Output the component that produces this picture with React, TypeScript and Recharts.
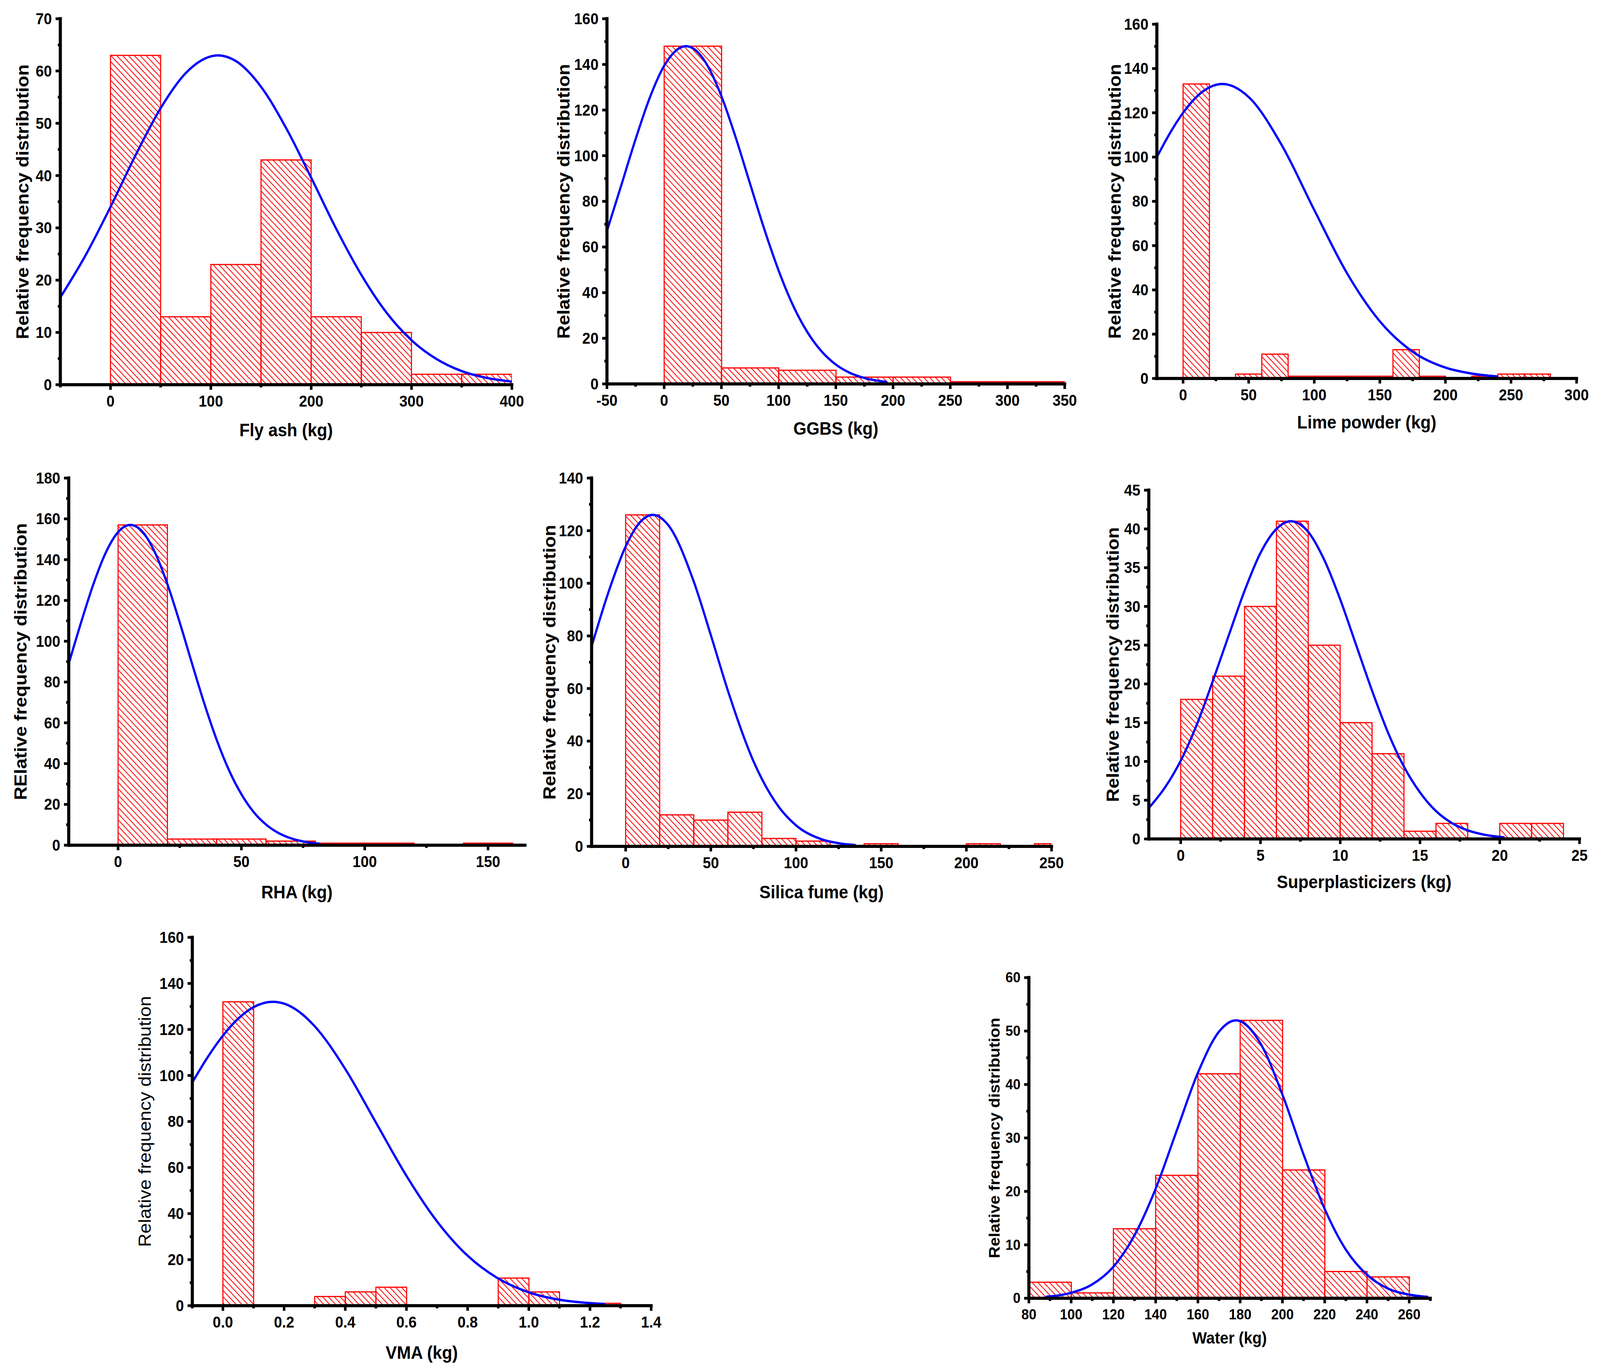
import React from 'react';
import { ComposedChart, Bar, Line, XAxis, YAxis } from 'recharts';

// ---------- Fly ash ----------
const flyAshBinStarts = [0, 50, 100, 150, 200, 250, 300, 350];
const flyAshCounts = [63, 13, 23, 43, 13, 10, 2, 2];
const flyAshCurveX = [-50, -25, 0, 25, 50, 75, 100, 107, 125, 150, 175, 200, 225, 250, 275, 300, 325, 350, 375, 400];
const flyAshCurveY = [16.7, 24.7, 34.0, 43.9, 52.9, 59.6, 62.8, 63, 61.9, 57.0, 49.1, 39.6, 29.8, 21.0, 13.8, 8.5, 4.9, 2.6, 1.3, 0.6];
const flyAshXTicks = [0, 100, 200, 300, 400];
const flyAshXMinor = [-50, 50, 150, 250, 350];
const flyAshYTicks = [0, 10, 20, 30, 40, 50, 60, 70];
const flyAshYMinor = [5, 15, 25, 35, 45, 55, 65];

// ---------- GGBS ----------
const ggbsBinStarts = [0, 50, 100, 150, 200, 250, 300];
const ggbsCounts = [148, 7, 6, 3, 3, 1, 1];
const ggbsCurveX = [-50, -37.5, -25, -12.5, 0, 19, 25, 37.5, 50, 62.5, 75, 87.5, 100, 112.5, 125, 137.5, 150, 162.5, 175, 195];
const ggbsCurveY = [67, 87.0, 107.2, 125.5, 139.4, 148, 147.1, 139.8, 126.1, 108.0, 87.8, 67.8, 49.7, 34.5, 22.8, 14.3, 8.5, 4.8, 2.6, 0.85];
const ggbsXTicks = [-50, 0, 50, 100, 150, 200, 250, 300, 350];
const ggbsXMinor = [-25, 25, 75, 125, 175, 225, 275, 325];
const ggbsYTicks = [0, 20, 40, 60, 80, 100, 120, 140, 160];
const ggbsYMinor = [10, 30, 50, 70, 90, 110, 130, 150];

// ---------- Lime powder ----------
const limeBinStarts = [0, 20, 40, 60, 80, 100, 120, 140, 160, 180, 200, 220, 240, 260];
const limeCounts = [133, 0, 2, 11, 1, 1, 1, 1, 13, 1, 0, 1, 2, 2];
const limeCurveX = [-20, -10, 0, 15, 30, 50, 75, 100, 125, 150, 175, 200, 220, 240];
const limeCurveY = [100, 110.8, 120, 129.6, 133, 127.1, 105.6, 76.1, 47.5, 25.8, 12.1, 4.9, 2.2, 0.87];
const limeXTicks = [0, 50, 100, 150, 200, 250, 300];
const limeXMinor = [25, 75, 125, 175, 225, 275];
const limeYTicks = [0, 20, 40, 60, 80, 100, 120, 140, 160];
const limeYMinor = [10, 30, 50, 70, 90, 110, 130, 150];

// ---------- RHA ----------
const rhaBinStarts = [0, 20, 40, 60, 80, 100, 120, 140];
const rhaCounts = [157, 3, 3, 2, 1, 1, 0, 1];
const rhaCurveX = [-20, -15, -10, -5, 0, 5, 10, 15, 20, 25, 30, 35, 40, 45, 50, 55, 60, 65, 70, 76, 82];
const rhaCurveY = [89, 109.2, 128, 143.4, 153.5, 157, 153.5, 143.4, 128, 109.2, 89, 69.3, 51.6, 36.7, 25, 16.2, 10.1, 6.0, 3.4, 1.6, 0.7];
const rhaXTicks = [0, 50, 100, 150];
const rhaXMinor = [25, 75, 125];
const rhaYTicks = [0, 20, 40, 60, 80, 100, 120, 140, 160, 180];
const rhaYMinor = [10, 30, 50, 70, 90, 110, 130, 150, 170];

// ---------- Silica fume ----------
const silicaBinStarts = [0, 20, 40, 60, 80, 100, 120, 140, 160, 180, 200, 220, 240];
const silicaCounts = [126, 12, 10, 13, 3, 2, 0, 1, 0, 0, 1, 0, 1];
const silicaCurveX = [-20, -10, 0, 8, 16, 25, 40, 50, 60, 75, 90, 100, 115, 125, 135];
const silicaCurveY = [76, 96.8, 114, 122.9, 126, 122.1, 100.6, 80.3, 59.2, 32.4, 14.9, 8.0, 2.7, 1.2, 0.5];
const silicaXTicks = [0, 50, 100, 150, 200, 250];
const silicaXMinor = [25, 75, 125, 175, 225];
const silicaYTicks = [0, 20, 40, 60, 80, 100, 120, 140];
const silicaYMinor = [10, 30, 50, 70, 90, 110, 130];

// ---------- Superplasticizers ----------
const spBinStarts = [0, 2, 4, 6, 8, 10, 12, 14, 16, 18, 20, 22];
const spCounts = [18, 21, 30, 41, 25, 15, 11, 1, 2, 0, 2, 2];
const spCurveX = [-2, -1, 0, 1, 2, 3, 4, 5, 6, 6.9, 8, 9, 10, 11, 12, 13, 14, 15, 16, 17, 18, 19, 20.3];
const spCurveY = [4.0, 6.6, 10.1, 14.7, 20.3, 26.2, 32.0, 36.9, 40.0, 41, 39.6, 36.0, 30.9, 25.0, 19.1, 13.7, 9.3, 6.0, 3.6, 2.05, 1.1, 0.56, 0.2];
const spXTicks = [0, 5, 10, 15, 20, 25];
const spXMinor = [2.5, 7.5, 12.5, 17.5, 22.5];
const spYTicks = [0, 5, 10, 15, 20, 25, 30, 35, 40, 45];
const spYMinor = [2.5, 7.5, 12.5, 17.5, 22.5, 27.5, 32.5, 37.5, 42.5];

// ---------- VMA ----------
const vmaBinStarts = [0, 0.1, 0.2, 0.3, 0.4, 0.5, 0.6, 0.7, 0.8, 0.9, 1.0, 1.1, 1.2];
const vmaCounts = [132, 0, 0, 4, 6, 8, 0, 0, 0, 12, 6, 0, 1];
const vmaCurveX = [-0.1, -0.05, 0, 0.05, 0.1, 0.163, 0.2, 0.25, 0.3, 0.4, 0.5, 0.6, 0.7, 0.8, 0.9, 1.0, 1.1, 1.175, 1.25];
const vmaCurveY = [97, 107.9, 117.3, 124.7, 129.7, 132, 131.2, 127.6, 121.4, 102.8, 79.6, 56.4, 36.6, 21.7, 11.8, 5.8, 2.6, 1.4, 0.7];
const vmaXTicks = [0, 0.2, 0.4, 0.6, 0.8, 1.0, 1.2, 1.4];
const vmaXMinor = [-0.1, 0.1, 0.3, 0.5, 0.7, 0.9, 1.1, 1.3];
const vmaYTicks = [0, 20, 40, 60, 80, 100, 120, 140, 160];
const vmaYMinor = [10, 30, 50, 70, 90, 110, 130, 150];

// ---------- Water ----------
const waterBinStarts = [80, 100, 120, 140, 160, 180, 200, 220, 240];
const waterCounts = [3, 1, 13, 23, 42, 52, 24, 5, 4];
const waterCurveX = [88, 100, 110, 120, 130, 140, 150, 160, 170, 178, 190, 200, 210, 220, 230, 240, 250, 260, 269];
const waterCurveY = [0.28, 1.03, 2.6, 5.9, 11.8, 20.5, 31.4, 42.2, 49.9, 52, 47.4, 38.1, 26.9, 16.7, 9.1, 4.4, 1.8, 0.68, 0.25];
const waterXTicks = [80, 100, 120, 140, 160, 180, 200, 220, 240, 260];
const waterXMinor = [90, 110, 130, 150, 170, 190, 210, 230, 250, 270];
const waterYTicks = [0, 10, 20, 30, 40, 50, 60];
const waterYMinor = [5, 15, 25, 35, 45, 55];

const FONT = "'Liberation Sans', Arial, Helvetica, sans-serif";
const PAGE_W = 4376;
const PAGE_H = 3500;
const ML = 300;
const MR = 70;
const MT = 40;
const MB = 220;

type PanelCfg = {
  left: number; top: number; right: number; bottom: number;
  binStarts: number[]; binWidth: number; counts: number[];
  curveX: number[]; curveY: number[];
  xDomain: [number, number]; xTicks: number[]; xMinor: number[];
  yDomain: [number, number]; yTicks: number[]; yMinor: number[];
  xTitle: string; yTitle: string;
  xTitleGap: number; yTitleGap: number;
  yTitleWeight?: string; yTitleSize?: number; xTitleSize?: number;
  tickFontSize?: number; decimals?: number;
};

const isIn = (arr: number[], v: number) => arr.some((m) => Math.abs(m - v) < 1e-9);

function Panel(c: PanelCfg) {
  const plotW = c.right - c.left;
  const plotH = c.bottom - c.top;
  const W = plotW + ML + MR;
  const H = plotH + MT + MB;
  const binData = c.binStarts.map((s, i) => ({ mid: s + c.binWidth / 2, count: c.counts[i] }));
  const curveData = c.curveX.map((x, i) => ({ x, y: c.curveY[i] }));
  const xAll = [...c.xTicks, ...c.xMinor].sort((a, b) => a - b);
  const yAll = [...c.yTicks, ...c.yMinor].sort((a, b) => a - b);
  const tfs = c.tickFontSize ?? 40;
  const dec = c.decimals ?? 0;

  const xTick = (p: any) => {
    const v = p.payload.value;
    const major = isIn(c.xTicks, v);
    return (
      <g>
        <line x1={p.x} x2={p.x} y1={p.y} y2={p.y + (major ? 13 : 7)} stroke="#000" strokeWidth={7} />
        {major && (
          <text x={p.x} y={p.y + 42} textAnchor="middle" dominantBaseline="central" fontFamily={FONT} fontWeight="bold" fontSize={tfs} fill="#000">
            {v.toFixed(dec)}
          </text>
        )}
      </g>
    );
  };
  const yTick = (p: any) => {
    const v = p.payload.value;
    const major = isIn(c.yTicks, v);
    return (
      <g>
        <line x1={p.x} x2={p.x - (major ? 13 : 7)} y1={p.y} y2={p.y} stroke="#000" strokeWidth={7} />
        {major && (
          <text x={p.x - 23} y={p.y} textAnchor="end" dominantBaseline="central" fontFamily={FONT} fontWeight="bold" fontSize={tfs} fill="#000">
            {v}
          </text>
        )}
      </g>
    );
  };

  return (
    <div style={{ position: 'absolute', left: c.left - ML, top: c.top - MT, width: W, height: H }}>
      <ComposedChart width={W} height={H} data={binData} margin={{ top: MT, right: MR, bottom: 0, left: 0 }} barCategoryGap={0} barGap={0}>
        <XAxis
          xAxisId="b"
          type="number"
          dataKey="mid"
          domain={c.xDomain}
          allowDataOverflow
          ticks={xAll}
          interval={0}
          tickSize={0}
          tickMargin={0}
          height={MB}
          axisLine={{ stroke: '#000', strokeWidth: 8, strokeLinecap: 'square' }}
          tickLine={false}
          tick={xTick}
        />
        <XAxis xAxisId="c" type="number" dataKey="x" domain={c.xDomain} allowDataOverflow hide />
        <YAxis
          type="number"
          domain={c.yDomain}
          allowDataOverflow
          ticks={yAll}
          interval={0}
          tickSize={0}
          tickMargin={0}
          width={ML}
          axisLine={{ stroke: '#000', strokeWidth: 8.5, strokeLinecap: 'square' }}
          tickLine={false}
          tick={yTick}
        />
        <Bar xAxisId="b" dataKey="count" fill="url(#hatchRed)" stroke="#FF0000" strokeWidth={3} isAnimationActive={false} />
        <Line xAxisId="c" data={curveData} dataKey="y" type="monotone" stroke="#0000FF" strokeWidth={6} dot={false} activeDot={false} isAnimationActive={false} />
      </ComposedChart>
      <svg width={W} height={H} style={{ position: 'absolute', left: 0, top: 0, pointerEvents: 'none' }}>
        <text
          x={ML + plotW / 2}
          y={MT + plotH + c.xTitleGap}
          textAnchor="middle"
          dominantBaseline="central"
          fontFamily={FONT}
          fontWeight="bold"
          fontSize={c.xTitleSize ?? 46}
          fill="#000"
        >
          {c.xTitle}
        </text>
        <text
          x={ML - c.yTitleGap}
          y={MT + plotH / 2}
          transform={`rotate(-90 ${ML - c.yTitleGap} ${MT + plotH / 2})`}
          textAnchor="middle"
          dominantBaseline="central"
          fontFamily={FONT}
          fontWeight={c.yTitleWeight ?? 'bold'}
          fontSize={c.yTitleSize ?? 48}
          fill="#000"
        >
          {c.yTitle}
        </text>
      </svg>
    </div>
  );
}

const RFD = 'Relative frequency distribution';

export default function App() {
  const vw = typeof window !== 'undefined' && window.innerWidth > 0 ? window.innerWidth : PAGE_W;
  const vh = typeof window !== 'undefined' && window.innerHeight > 0 ? window.innerHeight : PAGE_H;
  const sx = Math.min(1, vw / PAGE_W);
  const sy = Math.min(1, vh / PAGE_H);
  return (
    <div style={{ position: 'absolute', left: 0, top: 0, width: PAGE_W * sx, height: PAGE_H * sy, overflow: 'hidden', background: '#fff' }}>
      <div style={{ position: 'absolute', left: 0, top: 0, width: PAGE_W, height: PAGE_H, background: '#fff', transform: `scale(${sx}, ${sy})`, transformOrigin: '0 0' }}>
        <svg width={0} height={0} style={{ position: 'absolute' }}>
          <defs>
            <pattern id="hatchRed" patternUnits="userSpaceOnUse" width={16} height={16}>
              <path d="M-2,-2 L18,18 M-2,14 L2,18 M14,-2 L18,2" stroke="#FF0000" strokeWidth={2.2} fill="none" />
            </pattern>
          </defs>
        </svg>
        <Panel left={165} right={1400} top={48} bottom={985}
          binStarts={flyAshBinStarts} binWidth={50} counts={flyAshCounts} curveX={flyAshCurveX} curveY={flyAshCurveY}
          xDomain={[-50, 400]} xTicks={flyAshXTicks} xMinor={flyAshXMinor}
          yDomain={[0, 70]} yTicks={flyAshYTicks} yMinor={flyAshYMinor}
          xTitle="Fly ash (kg)" yTitle={RFD} xTitleGap={116} yTitleGap={103} />
        <Panel left={1660} right={2912} top={48} bottom={983}
          binStarts={ggbsBinStarts} binWidth={50} counts={ggbsCounts} curveX={ggbsCurveX} curveY={ggbsCurveY}
          xDomain={[-50, 350]} xTicks={ggbsXTicks} xMinor={ggbsXMinor}
          yDomain={[0, 160]} yTicks={ggbsYTicks} yMinor={ggbsYMinor}
          xTitle="GGBS (kg)" yTitle={RFD} xTitleGap={114} yTitleGap={119} />
        <Panel left={3164} right={4312} top={62} bottom={969}
          binStarts={limeBinStarts} binWidth={20} counts={limeCounts} curveX={limeCurveX} curveY={limeCurveY}
          xDomain={[-20, 300]} xTicks={limeXTicks} xMinor={limeXMinor}
          yDomain={[0, 160]} yTicks={limeYTicks} yMinor={limeYMinor}
          xTitle="Lime powder (kg)" yTitle={RFD} xTitleGap={112} yTitleGap={115} />
        <Panel left={188} right={1436} top={1224} bottom={2164}
          binStarts={rhaBinStarts} binWidth={20} counts={rhaCounts} curveX={rhaCurveX} curveY={rhaCurveY}
          xDomain={[-20, 165]} xTicks={rhaXTicks} xMinor={rhaXMinor}
          yDomain={[0, 180]} yTicks={rhaYTicks} yMinor={rhaYMinor}
          xTitle="RHA (kg)" yTitle="RElative frequency distribution" xTitleGap={120} yTitleGap={132} />
        <Panel left={1618} right={2876} top={1224} bottom={2167}
          binStarts={silicaBinStarts} binWidth={20} counts={silicaCounts} curveX={silicaCurveX} curveY={silicaCurveY}
          xDomain={[-20, 250]} xTicks={silicaXTicks} xMinor={silicaXMinor}
          yDomain={[0, 140]} yTicks={silicaYTicks} yMinor={silicaYMinor}
          xTitle="Silica fume (kg)" yTitle={RFD} xTitleGap={117} yTitleGap={115} />
        <Panel left={3142} right={4320} top={1255} bottom={2148}
          binStarts={spBinStarts} binWidth={2} counts={spCounts} curveX={spCurveX} curveY={spCurveY}
          xDomain={[-2, 25]} xTicks={spXTicks} xMinor={spXMinor}
          yDomain={[0, 45]} yTicks={spYTicks} yMinor={spYMinor}
          xTitle="Superplasticizers (kg)" yTitle={RFD} xTitleGap={110} yTitleGap={99} />
        <Panel left={526} right={1781} top={2400} bottom={3343}
          binStarts={vmaBinStarts} binWidth={0.1} counts={vmaCounts} curveX={vmaCurveX} curveY={vmaCurveY}
          xDomain={[-0.1, 1.4]} xTicks={vmaXTicks} xMinor={vmaXMinor}
          yDomain={[0, 160]} yTicks={vmaYTicks} yMinor={vmaYMinor} decimals={1}
          xTitle="VMA (kg)" yTitle={RFD} xTitleGap={120} yTitleGap={130} yTitleWeight="normal" />
        <Panel left={2814} right={3912} top={2503} bottom={3324}
          binStarts={waterBinStarts} binWidth={20} counts={waterCounts} curveX={waterCurveX} curveY={waterCurveY}
          xDomain={[80, 270]} xTicks={waterXTicks} xMinor={waterXMinor}
          yDomain={[0, 60]} yTicks={waterYTicks} yMinor={waterYMinor}
          xTitle="Water (kg)" yTitle={RFD} xTitleGap={102} yTitleGap={95}
          tickFontSize={37} xTitleSize={42} yTitleSize={42} />
      </div>
    </div>
  );
}
